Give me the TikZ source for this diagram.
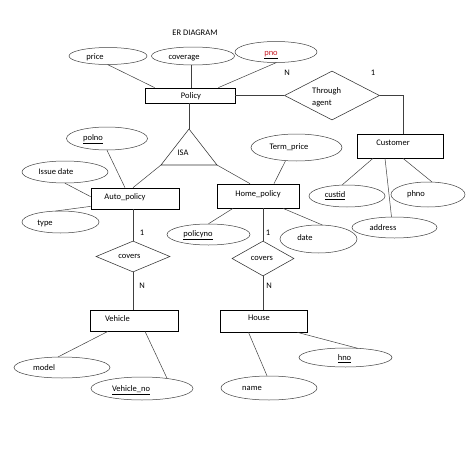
\documentclass[tikz,border=0pt]{standalone}
\usepackage{fontspec}
\setmainfont{Carlito}
\usetikzlibrary{shapes.geometric,calc}
\definecolor{pnored}{RGB}{200,30,40}
\tikzset{
  ent/.style={draw=black, line width=0.7pt, rectangle, inner sep=0pt},
  attr/.style={draw=black!75, line width=0.5pt, ellipse, inner sep=0pt},
  rel/.style={draw=black!80, line width=0.55pt, diamond, inner sep=0pt},
  txt/.style={font=\fontsize{8.5}{10}\selectfont, inner sep=0pt, text height=6.3pt, text depth=1.7pt},
  conn/.style={draw=black!75, line width=0.5pt},
}
\begin{document}
\begin{tikzpicture}[x=1pt,y=-1pt]
\useasboundingbox[fill=white] (0,0) rectangle (474,474);

% title
\node[txt] (title) at (195,33) {ER DIAGRAM};

% entities
\node[ent, minimum width=90pt, minimum height=15pt] (policy) at (190,95.5) {};
\node[ent, minimum width=86pt, minimum height=24pt] (customer) at (400,146) {};
\node[ent, minimum width=88pt, minimum height=21pt] (autop) at (135,198.5) {};
\node[ent, minimum width=82pt, minimum height=24pt] (homep) at (258,196) {};
\node[ent, minimum width=88pt, minimum height=21pt] (vehicle) at (134,320.5) {};
\node[ent, minimum width=87pt, minimum height=22pt] (house) at (263.5,321) {};

% relationships
\node[rel, minimum width=95pt, minimum height=49pt] (through) at (332,95.5) {};
\node[rel, minimum width=74pt, minimum height=31pt] (covers1) at (133,256.5) {};
\node[rel, minimum width=62pt, minimum height=35pt] (covers2) at (263,258.5) {};

% ISA triangle
\coordinate (isatop) at (189,129);
\coordinate (isal) at (161,165);
\coordinate (isar) at (217,165);
\draw[draw=black!80, line width=0.55pt] (isatop) -- (isal) -- (isar) -- cycle;

% attributes
\node[attr, minimum width=78pt, minimum height=17pt] (price) at (108,56) {};
\node[attr, minimum width=83pt, minimum height=18pt] (coverage) at (193,56) {};
\node[attr, minimum width=82pt, minimum height=21pt] (pno) at (276,52) {};
\node[attr, minimum width=81pt, minimum height=23pt] (polno) at (107,138.5) {};
\node[attr, minimum width=86pt, minimum height=22pt] (issue) at (65,172) {};
\node[attr, minimum width=77pt, minimum height=22pt] (type) at (60.5,222) {};
\node[attr, minimum width=91pt, minimum height=27pt] (term) at (296.5,147.5) {};
\node[attr, minimum width=83pt, minimum height=21pt] (policyno) at (208.5,234.5) {};
\node[attr, minimum width=77pt, minimum height=28pt] (date) at (318.5,239) {};
\node[attr, minimum width=76pt, minimum height=22pt] (custid) at (347,196) {};
\node[attr, minimum width=74pt, minimum height=25pt] (phno) at (428,194.5) {};
\node[attr, minimum width=85pt, minimum height=21pt] (address) at (394.5,227.5) {};
\node[attr, minimum width=96pt, minimum height=21pt] (model) at (62,367.5) {};
\node[attr, minimum width=102pt, minimum height=23pt] (vno) at (142,388.5) {};
\node[attr, minimum width=96pt, minimum height=24pt] (name) at (269,388) {};
\node[attr, minimum width=93pt, minimum height=19pt] (hno) at (345.5,357.5) {};

% texts
\node[txt] (tpolicy) at (191,96) {Policy};
\node[txt] (tcustomer) at (393,143) {Customer};
\node[txt] (tautop) at (125,197.5) {Auto\_policy};
\node[txt] (thomep) at (258,194) {Home\_policy};
\node[txt] (tvehicle) at (117.5,319) {Vehicle};
\node[txt] (thouse) at (259,318) {House};
\node[txt, anchor=west] (tthrough) at (312,91) {Through};
\node[txt, anchor=west] (tagent) at (312,103) {agent};
\node[txt] (tcov1) at (129.5,256) {covers};
\node[txt] (tcov2) at (262,258) {covers};
\node[txt] (tisa) at (183,153) {ISA};
\node[txt] (tprice) at (95,57) {price};
\node[txt] (tcoverage) at (184,57) {coverage};
\node[txt] (tpno) at (271,53) {\underline{\textcolor{pnored}{pno}}};
\node[txt] (tpolno) at (93,138) {\underline{polno}};
\node[txt] (tissue) at (56,172) {Issue date};
\node[txt] (ttype) at (45,223) {type};
\node[txt] (tterm) at (289,147) {Term\_price};
\node[txt] (tpolicyno) at (198,234) {\underline{policyno}};
\node[txt] (tdate) at (305,238) {date};
\node[txt] (tcustid) at (335,195) {\underline{custid}};
\node[txt] (tphno) at (416,194) {phno};
\node[txt] (taddress) at (383,228) {address};
\node[txt] (tmodel) at (44,368) {model};
\node[txt] (tvno) at (131,389) {\underline{Vehicle\_no}};
\node[txt] (tname) at (252,388) {name};
\node[txt] (thno) at (344.5,358) {\underline{hno}};

% cardinalities
\node[txt] (cN1) at (287,73) {N};
\node[txt] (c11) at (373,73) {1};
\node[txt] (c12) at (142,233) {1};
\node[txt] (cN2) at (142,286) {N};
\node[txt] (c13) at (268,233) {1};
\node[txt] (cN3) at (269,286) {N};

% connectors
\draw[conn] (price.south) -- ($(policy.north west)+(10,0)$);
\draw[conn] (coverage.south -| tpolicy) -- (tpolicy |- policy.north);
\draw[conn] (pno.south) -- ($(policy.north east)+(-17,0)$);
\draw[conn] (policy.east) -- (through.west);
\draw[conn] (through.east) -| ($(customer.north)+(3,0)$);
\draw[conn] ($(customer.south)+(-27,0)$) -- ($(custid.north)+(-5,0.3)$);
\draw[conn] ($(customer.south)+(-15,0)$) -- ($(address.north)+(-3,0.1)$);
\draw[conn] ($(customer.south)+(3,0)$) -- ($(phno.north)+(4,0.2)$);

\draw[conn] (isatop |- policy.south) -- (isatop);
\draw[conn] (isal) -- ($(autop.north)+(-2,0)$);
\draw[conn] (isar) -- ($(homep.north)+(-8,0)$);

\draw[conn] (polno.south) -- ($(autop.north)+(-10,0)$);
\draw[conn] (issue.south) -- ($(autop.north west)+(0,9)$);
\draw[conn] ($(type.north)+(-5,0.3)$) -- ($(autop.south west)+(0,-3)$);

\draw[conn] ($(term.south)+(-11,-0.4)$) -- ($(homep.north)+(16,0)$);
\draw[conn] ($(homep.south)+(-25,0)$) -- (policyno.north);
\draw[conn] ($(homep.south)+(25,0)$) -- ($(date.north)+(4,0.3)$);

\draw[conn] (covers1.north |- autop.south) -- (covers1.north);
\draw[conn] (covers1.south) -- (covers1.south |- vehicle.north);
\draw[conn] (covers2.north |- homep.south) -- (covers2.north);
\draw[conn] (covers2.south) -- (covers2.south |- house.north);

\draw[conn] ($(vehicle.south)+(-26,0)$) -- ($(model.north)+(-4,0.2)$);
\draw[conn] ($(vehicle.south)+(11,0)$) -- ($(vno.north)+(25,1.5)$);
\draw[conn] ($(house.south)+(-15,0)$) -- ($(name.north)+(-2,0)$);
\draw[conn] ($(house.south east)+(-10,0)$) -- ($(hno.north)+(12,0.5)$);
\end{tikzpicture}
\end{document}
